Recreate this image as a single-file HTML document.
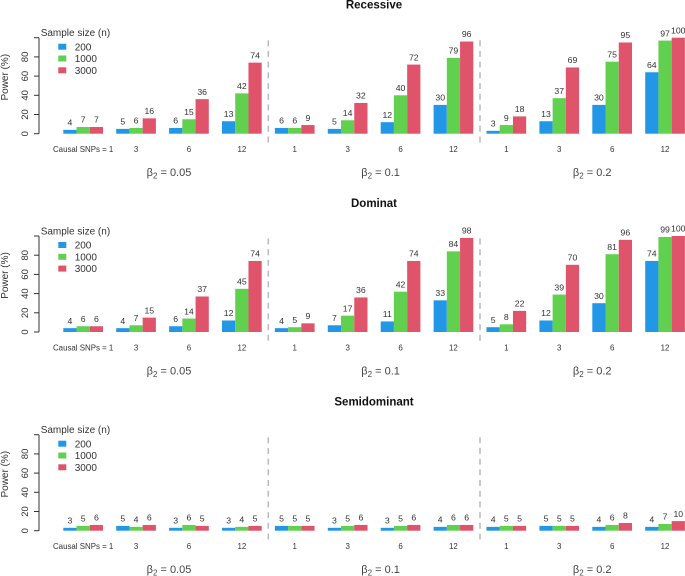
<!DOCTYPE html>
<html>
<head>
<meta charset="utf-8">
<style>
html,body{margin:0;padding:0;background:#fff;}
svg{display:block;font-family:"Liberation Sans",sans-serif;}
</style>
</head>
<body>
<svg id="chart" width="685" height="576" viewBox="0 0 685 576" xmlns="http://www.w3.org/2000/svg"></svg>
<script>
const causalSnps = ['1', '3', '6', '12'];
const sampleSizes = ['200', '1000', '3000'];
const betaLabels = ['0.05', '0.1', '0.2'];
const yTicks = [0, 20, 40, 60, 80, 100];
const panelTitles = ['Recessive', 'Dominat', 'Semidominant'];

const recessive200 = [4, 5, 6, 13, 6, 5, 12, 30, 3, 13, 30, 64];
const recessive1000 = [7, 6, 15, 42, 6, 14, 40, 79, 9, 37, 75, 97];
const recessive3000 = [7, 16, 36, 74, 9, 32, 72, 96, 18, 69, 95, 100];

const dominat200 = [4, 4, 6, 12, 4, 7, 11, 33, 5, 12, 30, 74];
const dominat1000 = [6, 7, 14, 45, 5, 17, 42, 84, 8, 39, 81, 99];
const dominat3000 = [6, 15, 37, 74, 9, 36, 74, 98, 22, 70, 96, 100];

const semidominant200 = [3, 5, 3, 3, 5, 3, 3, 4, 4, 5, 4, 4];
const semidominant1000 = [5, 4, 6, 4, 5, 5, 5, 6, 5, 5, 6, 7];
const semidominant3000 = [6, 6, 5, 5, 5, 6, 6, 6, 5, 5, 8, 10];

const NS = 'http://www.w3.org/2000/svg';
const svg = document.getElementById('chart');
const panelBaselines = [133.7, 332, 530.7];
const panelSeries = [
  [recessive200, recessive1000, recessive3000],
  [dominat200, dominat1000, dominat3000],
  [semidominant200, semidominant1000, semidominant3000]
];
const colors = ['#2297E6', '#61D04F', '#DF536B'];
const barW = 13.23;
const groupStep = 52.9;
const xStart = 63.3;
const pxPerUnit = 0.96;

function xBar(group, series) { return xStart + group * groupStep + series * barW; }
function yVal(y0, v) { return y0 - v * pxPerUnit; }

function node(tag, attrs, text) {
  const el = document.createElementNS(NS, tag);
  for (const k in attrs) el.setAttribute(k, attrs[k]);
  if (text !== undefined) el.textContent = text;
  return el;
}

panelTitles.forEach(function (title, p) {
  const y0 = panelBaselines[p];
  const g = node('g', {});
  
  
  svg.appendChild(g);

  const titleEl = node('text', {x: 374, y: y0 - 125, 'text-anchor': 'middle', 'font-size': 11.5, 'font-weight': 'bold', fill: '#111'}, title);
  
  
  g.appendChild(titleEl);

  const axis = node('line', {x1: 39, x2: 39, y1: yVal(y0, 100), y2: yVal(y0, 0), stroke: '#333', 'stroke-width': 1});
  
  
  g.appendChild(axis);

  yTicks.forEach(function (t) {
    const tick = node('line', {x1: 34, x2: 39, y1: yVal(y0, t), y2: yVal(y0, t), stroke: '#333', 'stroke-width': 1});
    
    
    g.appendChild(tick);
    if (t < 100) {
      const ty = yVal(y0, t);
      const lab = node('text', {x: 28, y: ty, transform: 'rotate(-90 28 ' + ty + ')', 'text-anchor': 'middle', 'font-size': 9.5, fill: '#333'}, String(t));
      
      
      g.appendChild(lab);
    }
  });

  const yTitleY = y0 - 56.5;
  const yTitle = node('text', {x: 8, y: yTitleY, transform: 'rotate(-90 8 ' + yTitleY + ')', 'text-anchor': 'middle', 'font-size': 10, fill: '#333'}, 'Power (%)');
  
  
  g.appendChild(yTitle);

  [268.3, 480].forEach(function (x) {
    const sep = node('line', {x1: x, x2: x, y1: y0 - 93.5, y2: y0 + 10.5, stroke: '#bdbdbd', 'stroke-width': 1.6, 'stroke-dasharray': '6 4.7'});
    
    
    g.appendChild(sep);
  });

  panelSeries[p].forEach(function (values, s) {
    values.forEach(function (v, i) {
      const bar = node('rect', {x: xBar(i, s), y: yVal(y0, v), width: barW, height: y0 - yVal(y0, v), fill: colors[s]});
      
      
      g.appendChild(bar);
      const lab = node('text', {x: xBar(i, s) + barW / 2, y: yVal(y0, v) - 4.3, 'text-anchor': 'middle', 'font-size': 8.7, fill: '#333'}, String(v));
      
      
      g.appendChild(lab);
    });
  });

  for (let i = 0; i < 12; i++) {
    const name = causalSnps[i % causalSnps.length];
    const text = i === 0 ? 'Causal SNPs = ' + name : name;
    const lab = node('text', {x: xBar(i, 1) + barW / 2, y: y0 + 18.3, 'text-anchor': 'middle', 'font-size': 7.9, fill: '#333'}, text);
    
    
    g.appendChild(lab);
  }

  betaLabels.forEach(function (b, k) {
    const cx = 169 + k * 4 * groupStep;
    const t = node('text', {x: cx, y: y0 + 42.5, 'text-anchor': 'middle', 'font-size': 11, fill: '#444'});
    
    
    t.appendChild(node('tspan', {}, 'β'));
    t.appendChild(node('tspan', {dy: 2.5, 'font-size': 8}, '2'));
    t.appendChild(node('tspan', {dy: -2.5}, ' = ' + b));
    g.appendChild(t);
  });

  const legendTitle = node('text', {x: 40.7, y: y0 - 97.5, 'font-size': 10, fill: '#333'}, 'Sample size (n)');
  
  
  g.appendChild(legendTitle);

  sampleSizes.forEach(function (n, s) {
    const cy = y0 - 87 + s * 11.8;
    const sw = node('rect', {x: 58.3, y: cy - 3, width: 8, height: 6, fill: colors[s]});
    
    
    g.appendChild(sw);
    const lab = node('text', {x: 74.7, y: cy + 3.6, 'font-size': 10, fill: '#333'}, n);
    
    
    g.appendChild(lab);
  });
});
</script>
</body>
</html>
